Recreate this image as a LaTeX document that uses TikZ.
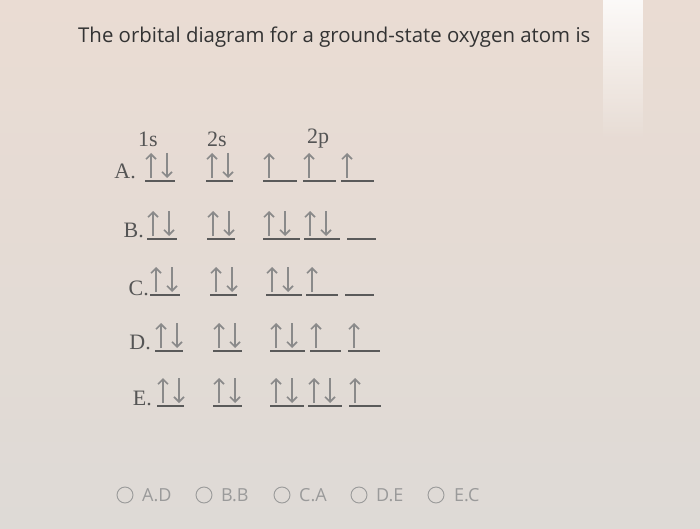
\documentclass[tikz,border=0pt]{standalone}
\usepackage{fontspec}
\usetikzlibrary{arrows.meta,fadings}
\newfontfamily\titlefont{Open Sans}
\newfontfamily\orbfont{Liberation Serif}
\definecolor{bgtop}{HTML}{EADCD3}
\definecolor{bgbot}{HTML}{DEDAD6}
\definecolor{titlecol}{HTML}{333333}
\definecolor{arrcol}{HTML}{8A8A8A}
\definecolor{linecol}{HTML}{5A5A5A}
\definecolor{lblcol}{HTML}{555555}
\definecolor{optcol}{HTML}{9A9A9A}
\tikzset{
  uline/.style={draw=linecol, line width=1.4pt},
  uparr/.style={draw=arrcol, line width=1.6pt, -{Straight Barb[length=5pt,width=10pt]}},
  lbl/.style={font=\orbfont\fontsize{22}{22}\selectfont, text=lblcol, inner sep=0pt},
  optcirc/.style={draw=optcol, line width=0.9pt},
  opttxt/.style={font=\titlefont\fontsize{18}{18}\selectfont, text=optcol, inner sep=0pt, anchor=west}
}
\newcommand\orbital[4]{%
  \draw[uline] (#1,#3) -- (#2,#3);
  \ifnum#4>0 \draw[uparr] (#1+6,#3-3) -- (#1+6,#3-28);\fi
  \ifnum#4>1 \draw[uparr] (#1+22,#3-28) -- (#1+22,#3-3);\fi}
\begin{document}
\begin{tikzpicture}[x=1pt,y=-1pt]
\useasboundingbox (0,0) rectangle (700,529);
\shade[top color=bgtop, bottom color=bgbot] (0,0) rectangle (700,529);
\fill[white, opacity=0.85, path fading=south] (603,0) rectangle (643,140);
% title
\node[font=\titlefont\fontsize{20.4}{20.4}\selectfont, text=titlecol, anchor=west, inner sep=0pt] (title) at (78,37) {The orbital diagram for a ground-state oxygen atom is};
% headers
\node[lbl] (h1s) at (148,139) {1s};
\node[lbl] (h2s) at (217,139) {2s};
\node[lbl] (h2p) at (318,139) {2p};
% row labels
\node[lbl, anchor=east] (la) at (136,171) {A.};
\node[lbl, anchor=east] (lb) at (144,230) {B.};
\node[lbl, anchor=east] (lc) at (149,288) {C.};
\node[lbl, anchor=east] (ld) at (151,342) {D.};
\node[lbl, anchor=east] (le) at (152,398) {E.};
% row A
\orbital{145}{175}{181}{2}
\orbital{206}{233}{181}{2}
\orbital{263}{297}{181}{1}
\orbital{303}{336}{181}{1}
\orbital{341}{374}{181}{1}
% row B
\orbital{147}{177}{239}{2}
\orbital{207}{235}{239}{2}
\orbital{263}{300}{239}{2}
\orbital{304}{340}{239}{2}
\orbital{347}{376}{239}{0}
% row C
\orbital{150}{180}{295}{2}
\orbital{210}{237}{295}{2}
\orbital{266}{302}{295}{2}
\orbital{306}{338}{295}{1}
\orbital{345}{374}{295}{0}
% row D
\orbital{155}{183}{351}{2}
\orbital{213}{242}{351}{2}
\orbital{270}{305}{351}{2}
\orbital{310}{341}{351}{1}
\orbital{348}{380}{351}{1}
% row E
\orbital{157}{184}{406}{2}
\orbital{213}{242}{406}{2}
\orbital{270}{304}{406}{2}
\orbital{308}{342}{406}{2}
\orbital{349}{381}{406}{1}
% options
\draw[optcirc] (125,495) circle (8);
\node[opttxt] (oa) at (142,495) {A.D};
\draw[optcirc] (204,495) circle (8);
\node[opttxt] (ob) at (221,495) {B.B};
\draw[optcirc] (282,495) circle (8);
\node[opttxt] (oc) at (299,495) {C.A};
\draw[optcirc] (359,495) circle (8);
\node[opttxt] (od) at (376,495) {D.E};
\draw[optcirc] (436,495) circle (8);
\node[opttxt] (oe) at (454,495) {E.C};
\end{tikzpicture}
\end{document}
